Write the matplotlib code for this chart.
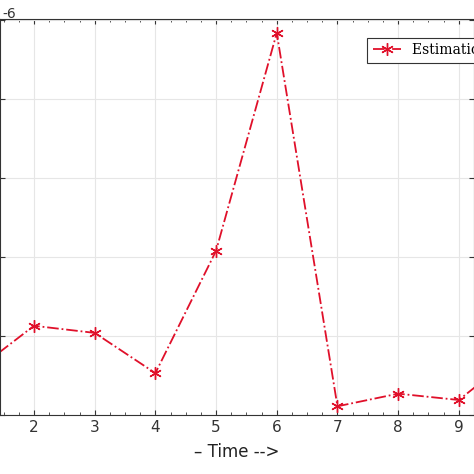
import matplotlib
matplotlib.use("Agg")
import matplotlib.pyplot as plt
from matplotlib.ticker import MultipleLocator

time = [1, 2, 3, 4, 5, 6, 7, 8, 9, 10]
err = [0.54, 1.13, 1.04, 0.53, 2.08, 4.84, 0.11, 0.27, 0.19, 0.8]
xticks = [2, 3, 4, 5, 6, 7, 8, 9]

fig = plt.figure(figsize=(4.74, 4.74), dpi=100)
ax = fig.add_axes([0, 0.1245, 1, 0.836])
ax.plot(time, err, color="#e0102a", linestyle="-.", linewidth=1.3,
        marker=(6, 2, 0), markersize=9, markeredgewidth=1.0,
        label="Estimation error")
ax.set_xlim(1.44, 9.25)
ax.set_ylim(0, 5.02)
ax.set_xticks(xticks)
ax.xaxis.set_minor_locator(MultipleLocator(0.25))
ax.yaxis.set_major_locator(MultipleLocator(1))
ax.tick_params(axis="both", which="both", direction="in", top=True, right=True,
               labelsize=11, colors="#333333")
ax.tick_params(axis="y", labelleft=False)
ax.grid(True, color="#e6e6e6", linewidth=0.8)
for s in ax.spines.values():
    s.set_color("#333333")
ax.set_xlabel("– Time -->", fontsize=12, color="#222222", labelpad=6)
fig.text(0.005, 0.985, "-6", fontsize=10, color="#333333", va="top")
leg = ax.legend(loc="upper left", bbox_to_anchor=(0.76, 0.97), fancybox=False,
                edgecolor="#333333", framealpha=1,
                prop={"family": "DejaVu Serif", "size": 10})
leg.get_frame().set_linewidth(0.8)
fig.savefig("out.png", dpi=100)
